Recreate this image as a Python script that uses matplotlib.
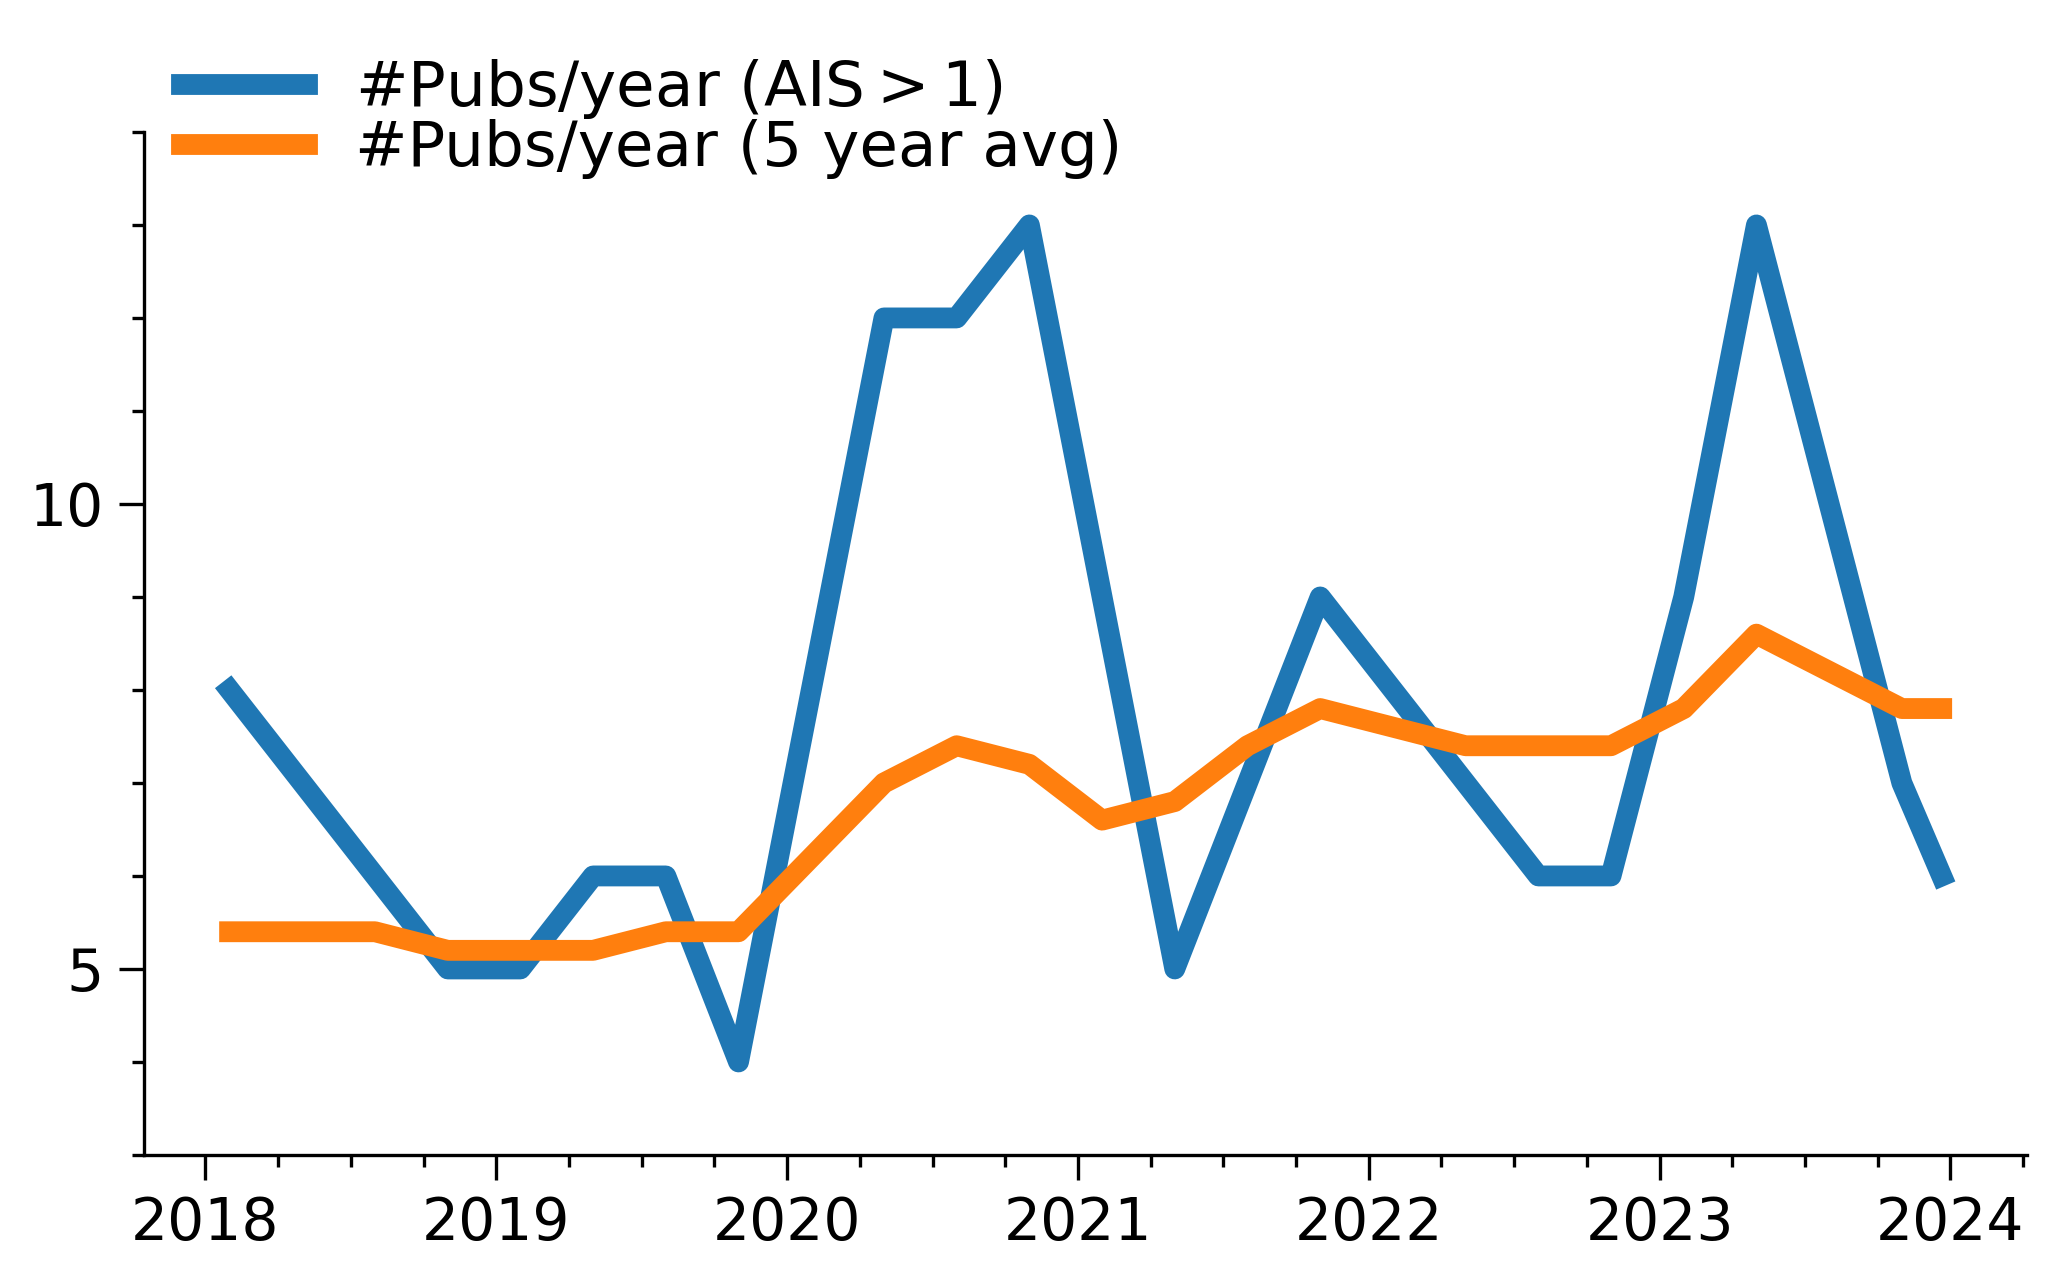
import matplotlib
matplotlib.use("Agg")
import matplotlib.pyplot as plt
from matplotlib.ticker import MultipleLocator, FixedLocator, FuncFormatter

# quarterly sampling dates (fractional years)
dates = [2018.083, 2018.333, 2018.583, 2018.833,
         2019.083, 2019.333, 2019.583, 2019.833,
         2020.083, 2020.333, 2020.583, 2020.833,
         2021.083, 2021.333, 2021.583, 2021.833,
         2022.083, 2022.333, 2022.583, 2022.833,
         2023.083, 2023.333, 2023.583, 2023.833,
         2023.97]
pubs_ais = [8, 7, 6, 5, 5, 6, 6, 4, 8, 12, 12, 13, 9, 5, 7, 9, 8, 7, 6, 6, 9, 13, 10, 7, 6]
pubs_avg = [5.4, 5.4, 5.4, 5.2, 5.2, 5.2, 5.4, 5.4, 6.2, 7.0, 7.4, 7.2, 6.6, 6.8,
            7.4, 7.8, 7.6, 7.4, 7.4, 7.4, 7.8, 8.6, 8.2, 7.8, 7.8]
labels = ["#Pubs/year (AIS$>$1)", "#Pubs/year (5 year avg)"]
year_ticks = [2018, 2019, 2020, 2021, 2022, 2023, 2024]

fig = plt.figure(figsize=(10.27, 6.405), dpi=200)
ax = fig.add_axes([0.0701, 0.0984, 0.9169, 0.7986])

ax.plot(dates, pubs_ais, color="#1f77b4", lw=7.5, label=labels[0])
ax.plot(dates, pubs_avg, color="#ff7f0e", lw=7.5, label=labels[1])

ax.set_ylim(3, 14)
ax.spines["top"].set_visible(False)
ax.spines["right"].set_visible(False)
for s in ("left", "bottom"):
    ax.spines[s].set_linewidth(1.2)

ax.xaxis.set_major_locator(FixedLocator(year_ticks))
ax.xaxis.set_major_formatter(FuncFormatter(lambda v, p: f"{int(round(v))}"))
ax.xaxis.set_minor_locator(MultipleLocator(0.25))
ax.yaxis.set_major_locator(MultipleLocator(5))
ax.yaxis.set_minor_locator(MultipleLocator(1))

ax.tick_params(which="major", length=9, width=1.2, labelsize=21, pad=5.5)
ax.tick_params(which="minor", length=4.3, width=1.2)

leg = ax.legend(loc="upper left", bbox_to_anchor=(0.0761, 0.975), bbox_transform=fig.transFigure,
                frameon=False, fontsize=22.6, labelspacing=-0.03, handlelength=2.0,
                handletextpad=0.76, borderaxespad=0.0)

fig.savefig("out.png", dpi=200)
